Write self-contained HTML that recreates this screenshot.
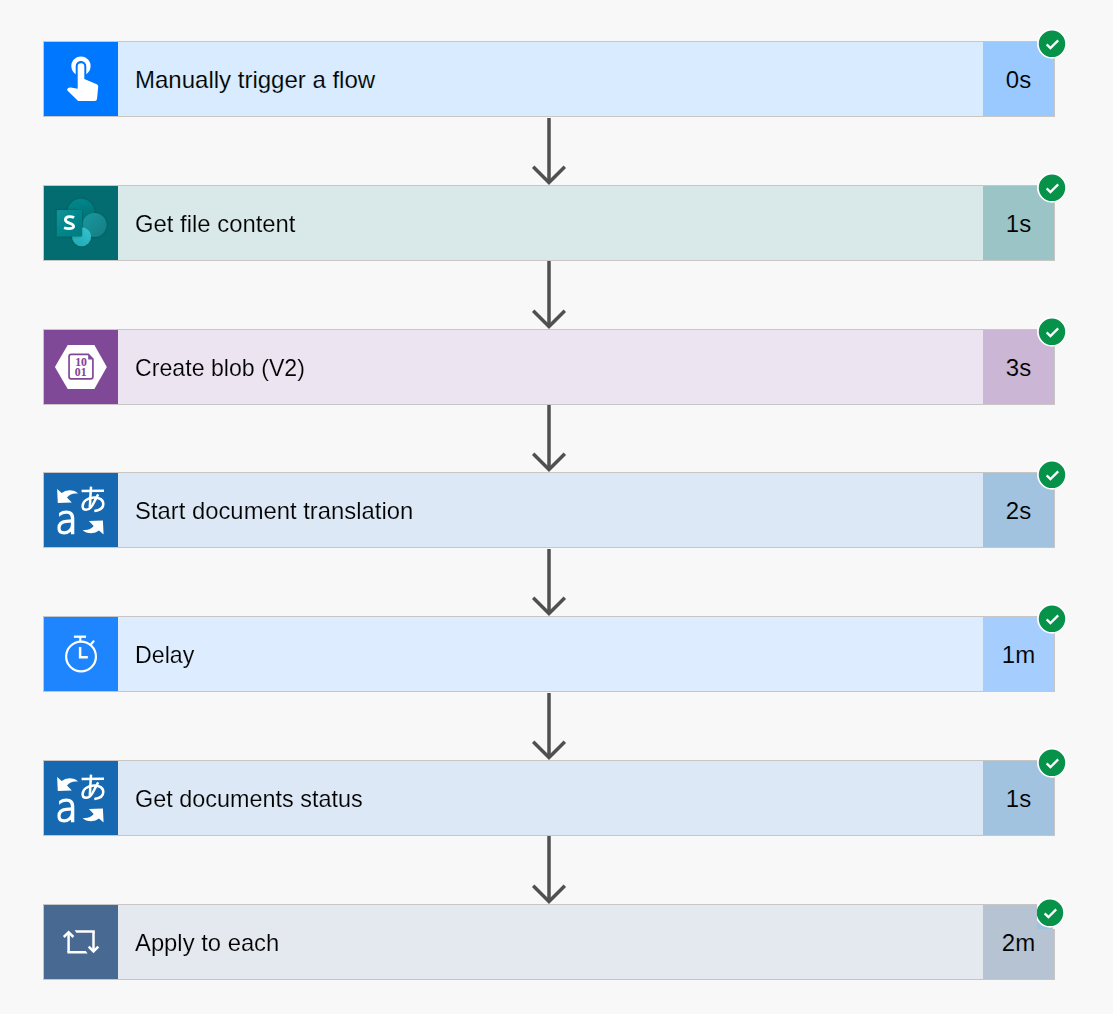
<!DOCTYPE html>
<html><head><meta charset="utf-8"><style>
html,body{margin:0;padding:0;}
body{width:1113px;height:1014px;background:#F8F8F8;position:relative;overflow:hidden;font-family:"Liberation Sans",sans-serif;}
.card{position:absolute;left:43px;width:1012px;height:76px;box-sizing:border-box;border:1px solid #C8C6C4;display:flex;}
.ic{width:74px;height:74px;flex:none;}
.ic svg{display:block;}
.tt{width:865px;height:74px;flex:none;display:flex;align-items:center;}
.tt span{position:absolute;left:91px;top:14px;font-size:24px;line-height:48px;color:#000;white-space:nowrap;transform-origin:0 0;}
.du{width:71px;height:74px;flex:none;display:flex;align-items:center;justify-content:center;}
.du span{position:relative;top:1px;font-size:24px;color:#000;}
.badge{position:absolute;left:1035px;}
.arrs{position:absolute;left:0;top:0;}
</style></head><body>
<div class="card" style="top:41px">
<div class="ic" style="background:#0077FF"><svg width="74" height="74" viewBox="0 0 74 74"><path d="M33.03 30.33A7.4 7.4 0 1 1 40.87 30.33" fill="none" stroke="#fff" stroke-width="4.5"/>
<path fill="none" stroke="#0077FF" stroke-width="4" d="M33.7 24.5A3.3 3.3 0 0 1 40.3 24.5L40.3 40L33.7 40Z"/>
<path fill="#fff" d="M33.7 24.5A3.3 3.3 0 0 1 40.3 24.5L40.3 36.9L52.8 42.2Q54.3 42.9 54.2 44.4L53 57.1Q52.8 59.1 50.8 59.1L35.2 59.1Q34.3 59.1 33.6 58.4L23.4 48.6Q22.8 47.8 23.5 46.8Q24.8 45.3 26.8 45.6L33.7 46.7Z"/></svg></div>
<div class="tt" style="background:#D9EBFF"><span style="transform:scaleX(1.0);-webkit-text-stroke:0.15px #D9EBFF">Manually trigger a flow</span></div>
<div class="du" style="background:#99C9FF"><span style="-webkit-text-stroke:0.15px #99C9FF">0s</span></div>
</div>
<svg class="badge" style="top:27px" width="34" height="34" viewBox="0 0 34 34"><circle cx="17" cy="16.8" r="14.1" fill="#07924A" stroke="#fff" stroke-width="1.7"/><path d="M11.67 17.39L15.45 21.17L23.19 13.43" fill="none" stroke="#fff" stroke-width="2.3"/></svg>
<div class="card" style="top:185px">
<div class="ic" style="background:#036C70"><svg width="74" height="74" viewBox="0 0 74 74"><defs>
<filter id="spsh" x="-30%" y="-30%" width="160%" height="160%"><feGaussianBlur in="SourceAlpha" stdDeviation="1.1"/><feOffset dx="0" dy="0.4" result="b"/><feFlood flood-color="#000" flood-opacity="0.32"/><feComposite in2="b" operator="in"/><feMerge><feMergeNode/><feMergeNode in="SourceGraphic"/></feMerge></filter>
<linearGradient id="spg1" x1="0" y1="0" x2="0.3" y2="1"><stop offset="0" stop-color="#058A8E"/><stop offset="1" stop-color="#036F73"/></linearGradient>
<linearGradient id="spg2" x1="0" y1="0" x2="1" y2="1"><stop offset="0" stop-color="#1B9AA0"/><stop offset="1" stop-color="#127C82"/></linearGradient>
<linearGradient id="spg3" x1="0.8" y1="0" x2="0.2" y2="1"><stop offset="0" stop-color="#33C3CD"/><stop offset="1" stop-color="#22AAB5"/></linearGradient>
<linearGradient id="spg4" x1="0" y1="0" x2="1" y2="1"><stop offset="0" stop-color="#089499"/><stop offset="1" stop-color="#037A7E"/></linearGradient>
</defs>
<g filter="url(#spsh)">
<circle cx="36.9" cy="26.3" r="13.5" fill="url(#spg1)"/>
<circle cx="50.5" cy="38.9" r="12" fill="url(#spg2)"/>
<circle cx="37.6" cy="50.7" r="9.5" fill="url(#spg3)"/>
</g>
<rect x="12.8" y="24.1" width="25.2" height="26.3" rx="1.2" fill="url(#spg4)" filter="url(#spsh)"/>
<path fill="none" stroke="#fff" stroke-width="2.8" d="M30.1 31.6C28.8 30.9 27.2 30.6 25.5 30.6C22.9 30.6 21.4 31.9 21.4 33.7C21.4 35.6 23 36.4 25.5 37.2C28.2 38.1 29.6 39 29.6 40.6C29.6 42.3 27.9 42.6 25 42.6C23.2 42.6 21.5 42.3 20.1 41.7"/></svg></div>
<div class="tt" style="background:#D9E9E9"><span style="transform:scaleX(0.994);-webkit-text-stroke:0.15px #D9E9E9">Get file content</span></div>
<div class="du" style="background:#9AC4C6"><span style="-webkit-text-stroke:0.15px #9AC4C6">1s</span></div>
</div>
<svg class="badge" style="top:171px" width="34" height="34" viewBox="0 0 34 34"><circle cx="17" cy="16.8" r="14.1" fill="#07924A" stroke="#fff" stroke-width="1.7"/><path d="M11.67 17.39L15.45 21.17L23.19 13.43" fill="none" stroke="#fff" stroke-width="2.3"/></svg>
<div class="card" style="top:329px">
<div class="ic" style="background:#804998"><svg width="74" height="74" viewBox="0 0 74 74"><path fill="#fff" d="M23.7 15.1L50.4 15.1L62.8 36.9L50.4 59L23.7 59L10.9 36.9Z"/>
<path fill="none" stroke="#804998" stroke-width="1.7" d="M27.3 24.4L44.3 24.4L48.9 29L48.9 46.6Q48.9 48.95 46.6 48.95L27.35 48.95Q25.05 48.95 25.05 46.6L25.05 26.7Q25.05 24.4 27.3 24.4Z"/>
<path fill="#804998" d="M44.2 24.4L48.9 29.3L48.9 29.6L44.2 29.6Z"/>
<text x="37" y="35.8" font-family="Liberation Serif" font-weight="bold" font-size="11.7" fill="#804998" stroke="#804998" stroke-width="0.12" text-anchor="middle">10</text>
<text x="36.7" y="46" font-family="Liberation Serif" font-weight="bold" font-size="11.7" fill="#804998" stroke="#804998" stroke-width="0.12" text-anchor="middle">01</text></svg></div>
<div class="tt" style="background:#ECE4F0"><span style="transform:scaleX(0.965);-webkit-text-stroke:0.15px #ECE4F0">Create blob (V2)</span></div>
<div class="du" style="background:#CCB6D6"><span style="-webkit-text-stroke:0.15px #CCB6D6">3s</span></div>
</div>
<svg class="badge" style="top:315px" width="34" height="34" viewBox="0 0 34 34"><circle cx="17" cy="16.8" r="14.1" fill="#07924A" stroke="#fff" stroke-width="1.7"/><path d="M11.67 17.39L15.45 21.17L23.19 13.43" fill="none" stroke="#fff" stroke-width="2.3"/></svg>
<div class="card" style="top:472px">
<div class="ic" style="background:#1668B0"><svg width="74" height="74" viewBox="0 0 74 74"><path fill="#fff" d="M13.1 15.9L17.7 19.9Q21 17.3 25.4 17.3Q31 17.3 34 20.6Q27 19.5 23 24.5L27.8 29.6L13.8 30.1Z"/>
<path fill="#fff" transform="rotate(180 36.35 38.75)" d="M13.1 15.9L17.7 19.9Q21 17.3 25.4 17.3Q31 17.3 34 20.6Q27 19.5 23 24.5L27.8 29.6L13.8 30.1Z"/>
<path fill="#fff" d="M15.1 40.1C17.2 38.4 19.6 37.6 22.4 37.6C27.6 37.6 30.3 40.4 30.3 45.6L30.3 61.3L26.9 61.3L26.9 46C26.9 42.3 25.4 40.7 22.3 40.7C19.6 40.7 17.2 41.7 15.1 43.7Z"/>
<path fill="none" stroke="#fff" stroke-width="3.2" d="M28.6 47.8L22.2 48.4C17.4 48.9 15 51.4 15 54.9C15 58.2 17.3 59.8 20.2 59.8C24.8 59.8 28.6 56.4 28.6 51.2"/>
<g fill="none" stroke="#fff" stroke-width="2.5">
<path d="M37.6 18.1L60 17.8"/>
<path d="M47 13.6L45.8 34.4"/>
<path d="M54.2 21.3L48.6 31.8C47 34.6 45 36.8 42 36.8C39.8 36.8 38.6 35.2 38.6 33.2C38.6 28.5 43.5 24.6 50 24.4C55.5 24.2 59.3 27 59.3 31C59.3 35.2 55.5 37.4 50.3 37.9"/>
</g></svg></div>
<div class="tt" style="background:#DCE8F5"><span style="transform:scaleX(0.993);-webkit-text-stroke:0.15px #DCE8F5">Start document translation</span></div>
<div class="du" style="background:#A2C3DF"><span style="-webkit-text-stroke:0.15px #A2C3DF">2s</span></div>
</div>
<svg class="badge" style="top:458px" width="34" height="34" viewBox="0 0 34 34"><circle cx="17" cy="16.8" r="14.1" fill="#07924A" stroke="#fff" stroke-width="1.7"/><path d="M11.67 17.39L15.45 21.17L23.19 13.43" fill="none" stroke="#fff" stroke-width="2.3"/></svg>
<div class="card" style="top:616px">
<div class="ic" style="background:#1F85FF"><svg width="74" height="74" viewBox="0 0 74 74"><g fill="none" stroke="#fff">
<circle cx="37.05" cy="39.45" r="14.9" stroke-width="2.2"/>
<path d="M29.9 19.7L42 19.7" stroke-width="2.3"/>
<path d="M36.3 19.7L36.3 24.6" stroke-width="2.1"/>
<path d="M47 27.3L49.6 24.3" stroke-width="2.1" stroke-linecap="round"/>
<path d="M36.1 29.9L36.1 40.3L43.8 40.3" stroke-width="2.5"/>
</g></svg></div>
<div class="tt" style="background:#DDEDFF"><span style="transform:scaleX(0.966);-webkit-text-stroke:0.15px #DDEDFF">Delay</span></div>
<div class="du" style="background:#A5CEFF"><span style="-webkit-text-stroke:0.15px #A5CEFF">1m</span></div>
</div>
<svg class="badge" style="top:602px" width="34" height="34" viewBox="0 0 34 34"><circle cx="17" cy="16.8" r="14.1" fill="#07924A" stroke="#fff" stroke-width="1.7"/><path d="M11.67 17.39L15.45 21.17L23.19 13.43" fill="none" stroke="#fff" stroke-width="2.3"/></svg>
<div class="card" style="top:760px">
<div class="ic" style="background:#1668B0"><svg width="74" height="74" viewBox="0 0 74 74"><path fill="#fff" d="M13.1 15.9L17.7 19.9Q21 17.3 25.4 17.3Q31 17.3 34 20.6Q27 19.5 23 24.5L27.8 29.6L13.8 30.1Z"/>
<path fill="#fff" transform="rotate(180 36.35 38.75)" d="M13.1 15.9L17.7 19.9Q21 17.3 25.4 17.3Q31 17.3 34 20.6Q27 19.5 23 24.5L27.8 29.6L13.8 30.1Z"/>
<path fill="#fff" d="M15.1 40.1C17.2 38.4 19.6 37.6 22.4 37.6C27.6 37.6 30.3 40.4 30.3 45.6L30.3 61.3L26.9 61.3L26.9 46C26.9 42.3 25.4 40.7 22.3 40.7C19.6 40.7 17.2 41.7 15.1 43.7Z"/>
<path fill="none" stroke="#fff" stroke-width="3.2" d="M28.6 47.8L22.2 48.4C17.4 48.9 15 51.4 15 54.9C15 58.2 17.3 59.8 20.2 59.8C24.8 59.8 28.6 56.4 28.6 51.2"/>
<g fill="none" stroke="#fff" stroke-width="2.5">
<path d="M37.6 18.1L60 17.8"/>
<path d="M47 13.6L45.8 34.4"/>
<path d="M54.2 21.3L48.6 31.8C47 34.6 45 36.8 42 36.8C39.8 36.8 38.6 35.2 38.6 33.2C38.6 28.5 43.5 24.6 50 24.4C55.5 24.2 59.3 27 59.3 31C59.3 35.2 55.5 37.4 50.3 37.9"/>
</g></svg></div>
<div class="tt" style="background:#DCE8F5"><span style="transform:scaleX(0.975);-webkit-text-stroke:0.15px #DCE8F5">Get documents status</span></div>
<div class="du" style="background:#A2C3DF"><span style="-webkit-text-stroke:0.15px #A2C3DF">1s</span></div>
</div>
<svg class="badge" style="top:746px" width="34" height="34" viewBox="0 0 34 34"><circle cx="17" cy="16.8" r="14.1" fill="#07924A" stroke="#fff" stroke-width="1.7"/><path d="M11.67 17.39L15.45 21.17L23.19 13.43" fill="none" stroke="#fff" stroke-width="2.3"/></svg>
<div class="card" style="top:904px">
<div class="ic" style="background:#486991"><svg width="74" height="74" viewBox="0 0 74 74"><g fill="#fff"><path d="M30.6 25.25L50.75 25.25L50.75 27.75L32.4 27.75Z"/><path d="M23.35 46.05L41.8 46.05L43.6 48.55L23.35 48.55Z"/></g>
<g fill="none" stroke="#fff" stroke-width="2.5">
<path d="M24.6 27L24.6 47"/>
<path d="M19.8 32L24.6 27.2L29.4 32"/>
<path d="M49.5 26.5L49.5 46"/>
<path d="M44.7 41.7L49.5 46.5L54.3 41.7"/>
</g></svg></div>
<div class="tt" style="background:#E4E9EF"><span style="transform:scaleX(0.992);-webkit-text-stroke:0.15px #E4E9EF">Apply to each</span></div>
<div class="du" style="background:#B6C3D3"><span style="-webkit-text-stroke:0.15px #B6C3D3">2m</span></div>
</div>
<div style="position:absolute;left:1037px;top:890px;width:30px;height:39px;overflow:hidden"><div style="position:absolute;left:0;top:14px;width:18px;height:25px;background:#F8F8F8"><div style="position:absolute;left:0;top:1px;width:15px;height:24px;background:#A2C3DF;border-right:1px solid #C8C6C4"></div></div><svg style="position:absolute;left:-3.95px;top:6.05px" width="34" height="34" viewBox="0 0 34 34"><circle cx="17" cy="16.8" r="14.1" fill="#07924A" stroke="#fff" stroke-width="1.7"/><path d="M11.67 17.39L15.45 21.17L23.19 13.43" fill="none" stroke="#fff" stroke-width="2.3"/></svg></div>
<svg class="arrs" width="1113" height="1014" viewBox="0 0 1113 1014"><g fill="none" stroke="#505050" stroke-width="3.5" stroke-miterlimit="10"><path d="M549 118L549 181.5"/><path d="M533.2 166.7L549 182.5L564.8 166.7"/><path d="M549 261L549 325.5"/><path d="M533.2 310.7L549 326.5L564.8 310.7"/><path d="M549 405L549 468.5"/><path d="M533.2 453.7L549 469.5L564.8 453.7"/><path d="M549 549L549 612.5"/><path d="M533.2 597.7L549 613.5L564.8 597.7"/><path d="M549 693L549 756.5"/><path d="M533.2 741.7L549 757.5L564.8 741.7"/><path d="M549 836L549 900.5"/><path d="M533.2 885.7L549 901.5L564.8 885.7"/></g></svg>
</body></html>
